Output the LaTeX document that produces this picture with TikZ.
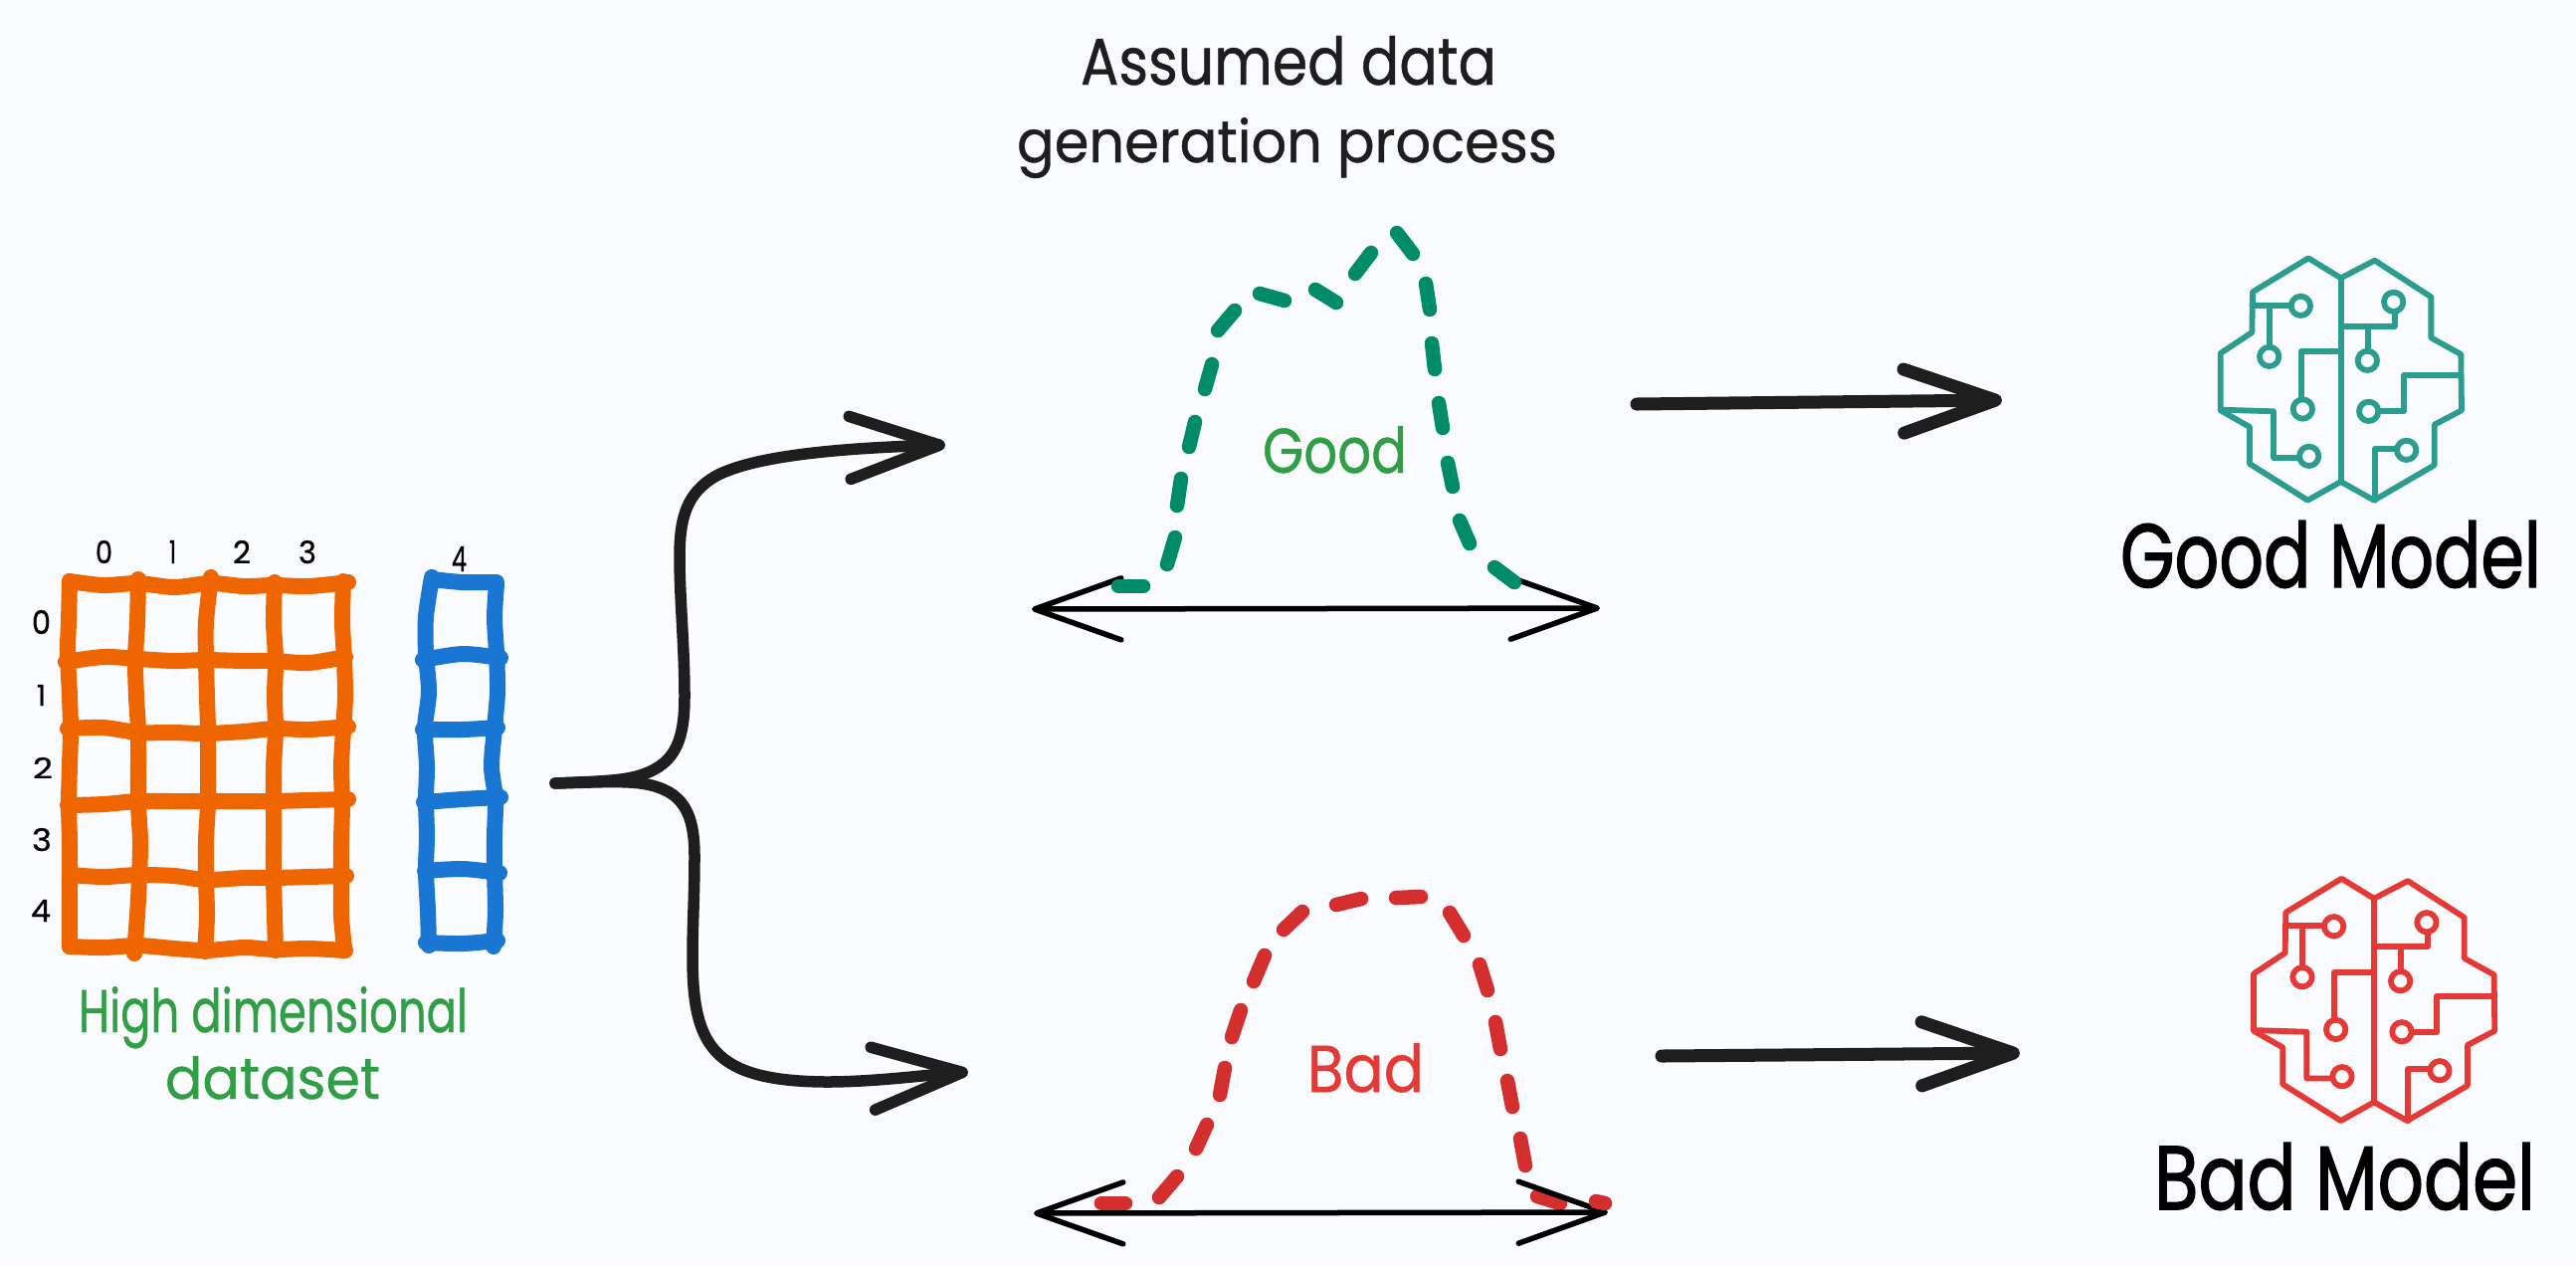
\documentclass[tikz,border=0pt]{standalone}
\usepackage{fontspec}
\setmainfont[FakeBold=0.7]{Poppins}
\newfontfamily\heavyhand[FakeBold=1.6]{Poppins}
\usetikzlibrary{arrows.meta}
\definecolor{paper}{HTML}{F9FBFE}
\definecolor{ink}{HTML}{1E1E1E}
\definecolor{gridorange}{HTML}{EF6600}
\definecolor{gridblue}{HTML}{1976D2}
\definecolor{labelgreen}{HTML}{2F9E44}
\definecolor{labelred}{HTML}{E53935}
\definecolor{dashgreen}{HTML}{008C68}
\definecolor{dashred}{HTML}{D32F2F}
\definecolor{brainteal}{HTML}{2A9D8F}
\definecolor{brainred}{HTML}{E53935}
\newlength{\pxu}\setlength{\pxu}{0.01cm}
\tikzset{
  gridline/.style={line width=0.16cm,line cap=round,line join=round},
  orangeline/.style={gridline,draw=gridorange},
  blueline/.style={gridline,draw=gridblue},
  distdash/.style={line width=0.145cm,line cap=round},
  axisline/.style={draw=black,line width=0.055cm,line cap=round,line join=round,
    {Straight Barb[round,length=0.87cm,width=0.62cm]}-{Straight Barb[round,length=0.87cm,width=0.62cm]}},
  splitline/.style={draw=ink,line width=0.115cm,line cap=round,line join=round,
    -{Straight Barb[round,length=0.90cm,width=0.63cm]}},
  modelarrow/.style={draw=ink,line width=0.13cm,line cap=round,line join=round,
    -{Straight Barb[round,length=0.92cm,width=0.64cm]}},
  brainline/.style={line width=0.058cm,line cap=round,line join=round},
  hand/.style={anchor=base west,inner sep=0pt,outer sep=0pt}
}
% name, x, baseline, width, height, colour, text
\newcommand{\hw}[7]{\node[hand,text=#6] (#1) at (#2,#3) {\resizebox{#4\pxu}{#5\pxu}{#7}};}
\newcommand{\brainicon}[3]{%
  \begin{scope}[shift={(#1,#2)},scale=0.3333,draw=#3]
    \draw[brainline] (518,148) -- (420,88) -- (252,190) -- (250,312) -- (155,375) -- (155,547)
      -- (243,597) -- (243,708) -- (418,818) -- (518,762) -- (618,818) -- (800,712) -- (800,590)
      -- (882,547) -- (880,378) -- (790,328) -- (790,205) -- (620,95) -- cycle;
    \draw[brainline] (518,148) -- (518,762);
    \draw[brainline] (250,230) -- (365,230);
    \draw[brainline] (397,232) circle[radius=29];
    \draw[brainline] (303,230) -- (303,355);
    \draw[brainline] (302,385) circle[radius=29];
    \draw[brainline] (518,370) -- (398,370) -- (398,512);
    \draw[brainline] (403,543) circle[radius=29];
    \draw[brainline] (155,545) -- (315,550) -- (315,690) -- (390,690);
    \draw[brainline] (422,685) circle[radius=29];
    \draw[brainline] (518,293) -- (680,293) -- (680,250);
    \draw[brainline] (677,220) circle[radius=29];
    \draw[brainline] (600,293) -- (600,366);
    \draw[brainline] (598,397) circle[radius=29];
    \draw[brainline] (880,442) -- (708,442) -- (708,550) -- (632,550);
    \draw[brainline] (602,550) circle[radius=29];
    \draw[brainline] (620,818) -- (620,662) -- (686,662);
    \draw[brainline] (716,667) circle[radius=29];
  \end{scope}}
\begin{document}
\begin{tikzpicture}[x=0.01cm,y=-0.01cm]
\useasboundingbox (0,0) rectangle (2589,1272);
\fill[paper] (0,0) rectangle (2589,1272);

% ---- orange table
\draw[orangeline] plot[smooth] coordinates {(70,584) (69,625) (68,655) (70,700) (71,734) (70,770) (69,808) (70,845) (70,882) (70,920) (70,951)};
\draw[orangeline] plot[smooth] coordinates {(139,582) (138,625) (136,662) (137,700) (139,734) (139,770) (139,808) (141,845) (140,882) (138,920) (135,958)};
\draw[orangeline] plot[smooth] coordinates {(212,580) (207,625) (207,662) (208,700) (209,734) (209,770) (209,808) (207,845) (207,882) (208,920) (206,956)};
\draw[orangeline] plot[smooth] coordinates {(276,585) (275,625) (277,662) (276,700) (277,734) (275,770) (275,808) (275,845) (275,882) (276,920) (277,955)};
\draw[orangeline] plot[smooth] coordinates {(345,584) (344,625) (346,662) (347,700) (345,734) (343,770) (344,808) (343,845) (343,882) (343,920) (346,952)};
\draw[orangeline] plot[smooth] coordinates {(70,584) (104,588) (139,586) (175,590) (212,586) (245,589) (276,588) (310,589) (350,585)};
\draw[orangeline] plot[smooth] coordinates {(66,665) (104,660) (139,662) (175,664) (207,663) (245,664) (276,664) (310,666) (347,660)};
\draw[orangeline] plot[smooth] coordinates {(68,732) (104,731) (139,736) (175,736) (207,737) (245,735) (276,732) (310,733) (350,730)};
\draw[orangeline] plot[smooth] coordinates {(68,809) (104,808) (139,805) (175,805) (207,805) (245,805) (276,805) (310,804) (350,803)};
\draw[orangeline] plot[smooth] coordinates {(70,879) (104,881) (139,879) (175,880) (207,884) (245,882) (276,882) (310,881) (348,880)};
\draw[orangeline] plot[smooth] coordinates {(70,951) (104,952) (139,950) (175,953) (207,955) (245,952) (276,954) (310,953) (347,955)};

% ---- blue column
\draw[blueline] plot[smooth] coordinates {(434,580) (428,620) (428,656) (431,695) (427,732) (429,770) (428,803) (429,840) (428,875) (430,915) (431,950)};
\draw[blueline] plot[smooth] coordinates {(499,587) (497,620) (499,656) (500,695) (497,732) (494,770) (498,803) (497,840) (497,875) (498,915) (496,951)};
\draw[blueline] plot[smooth] coordinates {(434,582) (465,585) (499,585)};
\draw[blueline] plot[smooth] coordinates {(425,663) (465,657) (503,661)};
\draw[blueline] plot[smooth] coordinates {(425,733) (465,733) (500,731)};
\draw[blueline] plot[smooth] coordinates {(426,806) (465,803) (503,801)};
\draw[blueline] plot[smooth] coordinates {(427,875) (465,873) (502,877)};
\draw[blueline] plot[smooth] coordinates {(428,947) (465,948) (500,945)};

% ---- table labels
\hw{c0}{96}{566}{17}{23}{black}{0}
\hw{c1}{170}{566}{7}{23}{black}{1}
\hw{c2}{234}{566}{18}{23}{black}{2}
\hw{c3}{300}{566}{18}{23}{black}{3}
\hw{c4}{454}{574}{15}{25}{black}{4}
\hw{r0}{32}{637}{19}{24}{black}{0}
\hw{r1}{37}{709}{9}{21}{black}{1}
\hw{r2}{33}{782}{20}{21}{black}{2}
\hw{r3}{32}{855}{20}{23}{black}{3}
\hw{r4}{31}{926}{20}{22}{black}{4}
\hw{dsa}{79}{1037}{391}{46}{labelgreen}{High dimensional}
\hw{dsb}{166}{1104}{216}{43}{labelgreen}{dataset}

% ---- title
\hw{tta}{1086}{85}{418}{49}{ink}{Assumed data}
\hw{ttb}{1022}{163}{543}{45}{ink}{generation process}

% ---- splitting connector
\coordinate (split) at (558,787);
\coordinate (goodIn) at (950,447);
\coordinate (badIn) at (973,1077);
\draw[splitline] (split) .. controls (600,785) and (620,785) .. (640,780)
  .. controls (675,770) and (688,750) .. (688,700)
  .. controls (688,650) and (683,600) .. (683,560)
  .. controls (683,520) and (690,495) .. (720,478)
  .. controls (760,457) and (850,450) .. (goodIn);
\draw[splitline] (split) .. controls (600,786) and (630,784) .. (650,788)
  .. controls (685,795) and (698,815) .. (698,860)
  .. controls (698,900) and (696,930) .. (696,960)
  .. controls (696,1050) and (715,1086) .. (830,1087)
  .. controls (880,1087) and (930,1080) .. (badIn);

% ---- good distribution
\coordinate (gl) at (1037,612);
\coordinate (gr) at (1608,611);
\draw[axisline] (gl) -- (gr);
\foreach \xa/\ya/\xb/\yb in {1124/589/1149/589,1173/567/1181/540,1183/508/1187/481,1195/449/1201/424,1211/391/1218/366,1224/332/1241/312,1266/295/1291/302,1322/291/1343/304,1362/275/1378/254,1404/234/1420/255,1433/285/1437/311,1439/345/1442/371,1446/405/1450/430,1455/465/1460/489,1467/523/1477/546,1502/570/1522/585}
  \draw[distdash,draw=dashgreen] (\xa,\ya) -- (\xb,\yb);
\hw{good}{1269}{475}{145}{47}{labelgreen}{Good}

% ---- bad distribution
\foreach \xa/\ya/\xb/\yb in {1107/1209/1131/1209,1165/1203/1183/1182,1202/1154/1213/1130,1226/1100/1231/1073,1238/1042/1247/1015,1260/986/1271/960,1290/934/1309/916,1343/909/1368/903,1403/902/1428/901,1457/917/1471/940,1487/969/1495/995,1503/1027/1508/1054,1515/1086/1520/1112,1528/1144/1533/1171,1545/1202/1568/1209}
  \draw[distdash,draw=dashred] (\xa,\ya) -- (\xb,\yb);
\coordinate (bl) at (1039,1219);
\coordinate (br) at (1616,1218);
\draw[axisline] (bl) -- (br);
\draw[distdash,draw=dashred] (1604,1207) -- (1613,1209);
\hw{bad}{1314}{1097}{117}{49}{labelred}{Bad}

% ---- arrows to the models
\coordinate (goodOut) at (1645,406);
\coordinate (goodBrain) at (2012,402);
\coordinate (badOut) at (1670,1061);
\coordinate (badBrain) at (2030,1058);
\draw[modelarrow] (goodOut) -- (goodBrain);
\draw[modelarrow] (badOut) -- (badBrain);

% ---- brains
\brainicon{2180}{230}{brainteal}
\brainicon{2213.3}{853.4}{brainred}

\hw{gm}{2131}{590}{423}{67}{black}{\heavyhand Good Model}
\hw{bm}{2165}{1215}{383}{67}{black}{\heavyhand Bad Model}
\end{tikzpicture}
\end{document}
